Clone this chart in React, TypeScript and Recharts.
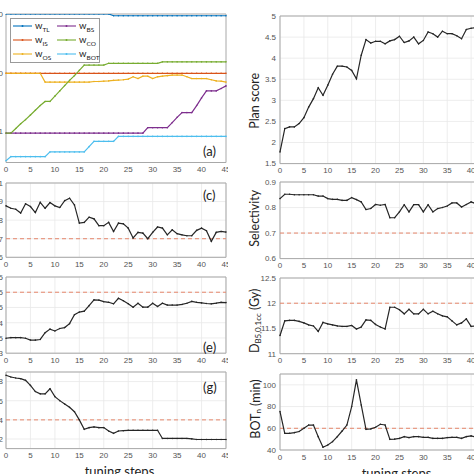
import React from "react";
import {
  LineChart,
  Line,
  XAxis,
  YAxis,
  CartesianGrid,
  ReferenceLine,
  ReferenceArea,
  Label,
} from "recharts";

// tuning steps (x axis)
const STEPS = [
  0, 1, 2, 3, 4, 5, 6, 7, 8, 9, 10, 11, 12, 13, 14, 15, 16, 17, 18, 19, 20, 21, 22,
  23, 24, 25, 26, 27, 28, 29, 30, 31, 32, 33, 34, 35, 36, 37, 38, 39, 40, 41, 42, 43,
  44, 45,
];
const X_TICKS = [0, 5, 10, 15, 20, 25, 30, 35, 40, 45];

// (a) objective weights, log10 scale
const W_TL = [
  2, 2, 2, 2, 2, 2, 2, 2, 2, 2, 2, 2, 2, 2, 2, 2, 2, 2, 2, 2, 2, 2, 1.97, 1.97, 1.97,
  1.97, 1.97, 1.97, 1.97, 1.97, 1.97, 1.97, 1.97, 1.97, 1.97, 1.97, 1.97, 1.97, 1.97,
  1.97, 1.97, 1.97, 1.97, 1.97, 1.97, 1.97,
];
const W_IS = [
  0.99, 0.99, 0.99, 0.99, 0.99, 0.99, 0.99, 0.99, 0.99, 0.99, 0.99, 0.99, 0.99, 0.99,
  0.99, 0.99, 0.99, 0.99, 0.99, 0.99, 0.99, 0.99, 0.99, 0.99, 0.99, 0.99, 0.99, 0.99,
  0.99, 0.99, 0.99, 0.99, 0.99, 0.99, 0.99, 0.99, 0.99, 0.99, 0.99, 0.99, 0.99, 0.99,
  0.99, 0.99, 0.99, 0.99,
];
const W_OS = [
  0.99, 0.99, 0.99, 0.99, 0.99, 0.99, 0.99, 0.99, 0.84, 0.84, 0.84, 0.84, 0.84, 0.84,
  0.84, 0.84, 0.84, 0.84, 0.85, 0.85, 0.855, 0.86, 0.87, 0.875, 0.88, 0.89, 0.93, 0.9,
  0.94, 0.94, 0.9, 0.93, 0.94, 0.95, 0.96, 0.96, 0.96, 0.93, 0.9, 0.9, 0.9, 0.9, 0.88,
  0.86, 0.855, 0.84,
];
const W_BS = [
  -0.03, -0.03, -0.03, -0.03, -0.03, -0.03, -0.03, -0.03, -0.03, -0.03, -0.03, -0.03,
  -0.03, -0.03, -0.03, -0.03, -0.03, -0.03, -0.03, -0.03, -0.03, -0.03, -0.03, -0.03,
  -0.03, -0.03, -0.03, -0.03, -0.03, 0.063, 0.063, 0.063, 0.063, 0.063, 0.15, 0.24,
  0.32, 0.32, 0.32, 0.44, 0.57, 0.69, 0.69, 0.69, 0.73, 0.775,
];
const W_CO = [
  -0.03, -0.03, 0.05, 0.13, 0.2, 0.28, 0.36, 0.44, 0.51, 0.51, 0.6, 0.69, 0.78, 0.87,
  0.95, 1.04, 1.13, 1.13, 1.13, 1.13, 1.13, 1.16, 1.16, 1.16, 1.16, 1.16, 1.16, 1.16,
  1.16, 1.16, 1.16, 1.16, 1.185, 1.185, 1.185, 1.185, 1.185, 1.185, 1.185, 1.185,
  1.185, 1.185, 1.185, 1.185, 1.185, 1.185,
];
const W_BOT = [
  -0.5, -0.43, -0.43, -0.43, -0.43, -0.43, -0.43, -0.43, -0.43, -0.35, -0.35, -0.35,
  -0.35, -0.35, -0.35, -0.35, -0.35, -0.26, -0.17, -0.17, -0.17, -0.17, -0.17, -0.085,
  -0.085, -0.085, -0.085, -0.085, -0.085, -0.085, -0.085, -0.085, -0.085, -0.085,
  -0.085, -0.085, -0.085, -0.085, -0.085, -0.085, -0.085, -0.085, -0.085, -0.085,
  -0.085, -0.085,
];

// (c), (e), (g)
const PANEL_C = [
  0.9877, 0.9864, 0.9859, 0.9838, 0.9888, 0.9873, 0.9841, 0.9896, 0.9864, 0.9895,
  0.9877, 0.9868, 0.9905, 0.9918, 0.9882, 0.9784, 0.9788, 0.9816, 0.9807, 0.977,
  0.977, 0.9788, 0.9739, 0.9784, 0.978, 0.9757, 0.9704, 0.9734, 0.973, 0.97, 0.9734,
  0.9763, 0.9757, 0.9721, 0.9748, 0.9727, 0.9721, 0.9716, 0.9716, 0.9745, 0.9757,
  0.9743, 0.9686, 0.9734, 0.9739, 0.9736,
];
const PANEL_E = [
  1.349, 1.351, 1.351, 1.351, 1.349, 1.343, 1.343, 1.345, 1.367, 1.379, 1.373, 1.381,
  1.384, 1.397, 1.426, 1.435, 1.438, 1.456, 1.475, 1.474, 1.469, 1.467, 1.462, 1.48,
  1.472, 1.462, 1.451, 1.464, 1.451, 1.451, 1.464, 1.453, 1.464, 1.458, 1.458, 1.458,
  1.46, 1.464, 1.47, 1.467, 1.465, 1.463, 1.462, 1.464, 1.467, 1.466,
];
const PANEL_G = [
  1.866, 1.848, 1.837, 1.83, 1.813, 1.76, 1.696, 1.672, 1.672, 1.725, 1.643, 1.601,
  1.566, 1.531, 1.485, 1.4, 1.301, 1.319, 1.326, 1.319, 1.319, 1.284, 1.259, 1.284,
  1.287, 1.291, 1.291, 1.291, 1.291, 1.291, 1.291, 1.291, 1.206, 1.206, 1.206, 1.206,
  1.206, 1.206, 1.202, 1.195, 1.195, 1.195, 1.195, 1.195, 1.195, 1.195,
];

// right column
const PLAN_SCORE = [
  1.776, 2.33, 2.37, 2.37, 2.45, 2.59, 2.84, 3.04, 3.3, 3.12, 3.36, 3.62, 3.81, 3.81,
  3.79, 3.71, 3.51, 4.07, 4.44, 4.36, 4.4, 4.4, 4.34, 4.41, 4.44, 4.52, 4.37, 4.41,
  4.5, 4.34, 4.42, 4.62, 4.58, 4.5, 4.64, 4.58, 4.58, 4.53, 4.46, 4.68, 4.71, 4.72,
  4.7, 4.73, 4.74, 4.75,
];
const SELECTIVITY = [
  0.835, 0.852, 0.852, 0.85, 0.85, 0.85, 0.85, 0.85, 0.845, 0.845, 0.835, 0.832,
  0.832, 0.828, 0.828, 0.839, 0.831, 0.822, 0.792, 0.796, 0.812, 0.809, 0.812, 0.76,
  0.76, 0.783, 0.811, 0.783, 0.811, 0.811, 0.783, 0.811, 0.783, 0.796, 0.8, 0.806,
  0.818, 0.818, 0.802, 0.812, 0.822, 0.815, 0.82, 0.825, 0.82, 0.825,
];
const D_BS = [
  11.36, 11.65, 11.66, 11.66, 11.64, 11.61, 11.57, 11.55, 11.44, 11.62, 11.59, 11.57,
  11.55, 11.54, 11.54, 11.56, 11.49, 11.53, 11.67, 11.66, 11.58, 11.53, 11.49, 11.92,
  11.92, 11.87, 11.79, 11.88, 11.79, 11.79, 11.88, 11.79, 11.84, 11.79, 11.75, 11.73,
  11.65, 11.57, 11.61, 11.69, 11.54, 11.55, 11.58, 11.57, 11.6, 11.6,
];
const BOT_N = [
  75.4, 55.4, 55.4, 56, 57, 60, 63, 63, 52.3, 42.5, 44.6, 47.7, 52.3, 57.5, 63, 80,
  104.6, 81.5, 59, 59.4, 61, 63.7, 63, 49.8, 50, 50.7, 52.3, 51.4, 52.3, 52.3, 51.7,
  51.7, 50.7, 50.7, 50.7, 51.4, 51.7, 51.7, 50.7, 52.3, 53, 52, 53, 52, 53, 53,
];

const WEIGHT_SERIES = [
  { key: "tl", sub: "TL", color: "#0072BD", values: W_TL },
  { key: "is", sub: "IS", color: "#D95319", values: W_IS },
  { key: "os", sub: "OS", color: "#EDB120", values: W_OS },
  { key: "bs", sub: "BS", color: "#7E2F8E", values: W_BS },
  { key: "co", sub: "CO", color: "#77AC30", values: W_CO },
  { key: "bot", sub: "BOT", color: "#4DBEEE", values: W_BOT },
];

const TICK_FONT = "'Liberation Sans', Arial, sans-serif";
const TITLE_FONT = "Lato, 'Open Sans', sans-serif";
const YW = 40;
const PAD_TOP = 6;
const LINE_BLACK = "#262626";
const THRESHOLD = "#e6866a";

function table(cols: Record<string, number[]>) {
  return STEPS.map((step, i) => {
    const row: Record<string, number> = { step };
    for (const k of Object.keys(cols)) row[k] = cols[k][i];
    return row;
  });
}

type Box = { x: number; y: number; w: number; h: number };
type Series = { key: string; color: string };

function yTitle(content: React.ReactNode, shift: number) {
  return (p: any) => {
    const vb = p.viewBox ?? { x: 0, y: PAD_TOP, width: YW, height: 0 };
    const cx = vb.x + vb.width - 25.5;
    const cy = vb.y + vb.height / 2 + shift;
    return (
      <text
        x={cx}
        y={cy}
        transform={`rotate(-90 ${cx} ${cy})`}
        textAnchor="middle"
        dominantBaseline="central"
        fontSize={12.5}
        fontFamily={TITLE_FONT}
        fill="#222"
      >
        {content}
      </text>
    );
  };
}

function xTitle(shift: number) {
  return (p: any) => {
    const vb = p.viewBox ?? { x: YW, y: 0, width: 0, height: 0 };
    return (
      <text
        x={vb.x + vb.width / 2 + shift}
        y={vb.y + 27.7}
        textAnchor="middle"
        fontSize={13}
        fontFamily={TITLE_FONT}
        fill="#222"
      >
        tuning steps
      </text>
    );
  };
}

function Panel(props: {
  box: Box;
  data: Record<string, number>[];
  series: Series[];
  yDomain: [number, number];
  yTicks: number[];
  labelGap: number;
  refY?: number;
  grid?: boolean;
  xh?: number;
  yFormat?: (v: number) => string;
  title?: React.ReactNode;
  titleShift?: number;
  xTitleShift?: number;
}) {
  const { box, xh = 14 } = props;
  const [lo, hi] = props.yDomain;
  const tick = { fontSize: 8, fill: "#555", fontFamily: TICK_FONT };
  return (
    <div style={{ position: "absolute", left: box.x - YW, top: box.y - PAD_TOP }}>
      <LineChart
        width={box.w + YW + 2}
        height={box.h + PAD_TOP + xh}
        data={props.data}
        margin={{ top: PAD_TOP, right: 2, bottom: 0, left: 0 }}
      >
        {props.grid !== false && <CartesianGrid stroke="#e8e8e8" strokeWidth={0.8} />}
        <XAxis
          dataKey="step"
          type="number"
          domain={[0, 45]}
          ticks={X_TICKS}
          interval={0}
          height={xh}
          axisLine={false}
          tickLine={false}
          tickSize={0}
          tickMargin={4}
          tick={tick}
        >
          {props.xTitleShift !== undefined && <Label content={xTitle(props.xTitleShift)} />}
        </XAxis>
        <YAxis
          type="number"
          domain={props.yDomain}
          ticks={props.yTicks}
          interval={0}
          width={YW}
          allowDataOverflow
          axisLine={false}
          tickLine={false}
          tickSize={0}
          tickMargin={props.labelGap}
          tick={tick}
          tickFormatter={props.yFormat}
        >
          {props.title && <Label content={yTitle(props.title, props.titleShift ?? 0)} />}
        </YAxis>
        <ReferenceArea x1={0} x2={45} y1={lo} y2={hi} fill="none" stroke="#a8a8a8" strokeWidth={1} />
        {props.refY !== undefined && (
          <ReferenceLine y={props.refY} stroke={THRESHOLD} strokeDasharray="4 3" strokeWidth={1} />
        )}
        {props.series.map((s) => (
          <Line
            key={s.key}
            type="linear"
            dataKey={s.key}
            stroke={s.color}
            strokeWidth={1.2}
            dot={{ r: 0.8, fill: s.color, stroke: s.color, strokeWidth: 0 }}
            activeDot={false}
            isAnimationActive={false}
          />
        ))}
      </LineChart>
    </div>
  );
}

function WeightLegend() {
  return (
    <div
      style={{
        position: "absolute",
        left: 10,
        top: 18,
        width: 90,
        height: 45,
        border: "1px solid #9a9a9a",
        background: "#fff",
        boxSizing: "border-box",
      }}
    >
      {WEIGHT_SERIES.map((s, i) => {
        const col = Math.floor(i / 3);
        const row = i % 3;
        return (
          <div
            key={s.key}
            style={{
              position: "absolute",
              left: 2 + col * 44,
              top: 1 + row * 14,
              height: 12,
              display: "flex",
              alignItems: "center",
              whiteSpace: "nowrap",
            }}
          >
            <svg width={19} height={12}>
              <line x1={0} y1={6} x2={19} y2={6} stroke={s.color} strokeWidth={1.1} />
              <circle cx={9.5} cy={6} r={1} fill={s.color} />
            </svg>
            <span style={{ marginLeft: 3, fontSize: 9.5, lineHeight: "12px", fontFamily: TITLE_FONT, color: "#222" }}>
              w<span style={{ fontSize: 6.5, position: "relative", top: 3 }}>{s.sub}</span>
            </span>
          </div>
        );
      })}
    </div>
  );
}

function Tag({ x, y, text }: { x: number; y: number; text: string }) {
  return (
    <div
      style={{
        position: "absolute",
        left: x,
        top: y,
        fontSize: 13,
        lineHeight: "13px",
        fontFamily: TITLE_FONT,
        color: "#222",
      }}
    >
      {text}
    </div>
  );
}

const LX = 6;
const LW = 220;
const RX = 279.5;
const RW = 215;

const weightData = table(Object.fromEntries(WEIGHT_SERIES.map((s) => [s.key, s.values])));
const cData = table({ v: PANEL_C });
const eData = table({ v: PANEL_E });
const gData = table({ v: PANEL_G });
const psData = table({ v: PLAN_SCORE });
const selData = table({ v: SELECTIVITY });
const dData = table({ v: D_BS });
const botData = table({ v: BOT_N });
const black = [{ key: "v", color: LINE_BLACK }];

export default function App() {
  return (
    <div
      style={{
        position: "fixed",
        left: 0,
        top: 0,
        width: 474,
        height: 474,
        overflow: "hidden",
        background: "#fff",
      }}
    >
      {/* left column */}
      <Panel
        box={{ x: LX, y: 13.5, w: LW, h: 148.5 }}
        data={weightData}
        series={WEIGHT_SERIES}
        yDomain={[-0.53, 2]}
        yTicks={[0, 1, 2]}
        yFormat={(v) => String(10 ** v)}
        labelGap={3}
        grid={false}
      />
      <WeightLegend />
      <Tag x={203} y={145} text="(a)" />
      <Panel
        box={{ x: LX, y: 183, w: LW, h: 74.3 }}
        data={cData}
        series={black}
        yDomain={[0.96, 1]}
        yTicks={[0.96, 0.97, 0.98, 0.99, 1]}
        refY={0.97}
        labelGap={3}
      />
      <Tag x={203} y={189} text="(c)" />
      <Panel
        box={{ x: LX, y: 276.5, w: LW, h: 76.2 }}
        data={eData}
        series={black}
        yDomain={[1.3, 1.55]}
        yTicks={[1.3, 1.35, 1.4, 1.45, 1.5, 1.55]}
        refY={1.5}
        labelGap={3}
      />
      <Tag x={203} y={341} text="(e)" />
      <Panel
        box={{ x: LX, y: 371.7, w: LW, h: 76.6 }}
        data={gData}
        series={black}
        yDomain={[1.1, 1.9]}
        yTicks={[1.2, 1.4, 1.6, 1.8]}
        refY={1.4}
        labelGap={3}
        xh={30}
        xTitleShift={3.5}
      />
      <Tag x={203} y={381} text="(g)" />

      {/* right column */}
      <Panel
        box={{ x: RX, y: 15.7, w: RW, h: 147.6 }}
        data={psData}
        series={black}
        yDomain={[1.5, 5]}
        yTicks={[1.5, 2, 2.5, 3, 3.5, 4, 4.5, 5]}
        labelGap={4}
        title="Plan score"
        titleShift={11}
      />
      <Panel
        box={{ x: RX, y: 181.7, w: RW, h: 76.6 }}
        data={selData}
        series={black}
        yDomain={[0.6, 0.9]}
        yTicks={[0.6, 0.7, 0.8, 0.9]}
        refY={0.7}
        labelGap={4}
        title="Selectivity"
        titleShift={-2}
      />
      <Panel
        box={{ x: RX, y: 278.3, w: RW, h: 75.7 }}
        data={dData}
        series={black}
        yDomain={[11, 12.5]}
        yTicks={[11, 11.5, 12, 12.5]}
        refY={12}
        labelGap={4}
        title={
          <>
            <tspan>D</tspan>
            <tspan dy={3.5} fontSize={8}>
              B5,0.1cc
            </tspan>
            <tspan dy={-3.5}> (Gy)</tspan>
          </>
        }
        titleShift={5}
      />
      <Panel
        box={{ x: RX, y: 374, w: RW, h: 76 }}
        data={botData}
        series={black}
        yDomain={[40, 110]}
        yTicks={[40, 60, 80, 100]}
        refY={60}
        labelGap={4}
        xh={30}
        xTitleShift={9}
        title={
          <>
            <tspan>BOT</tspan>
            <tspan dy={3.5} fontSize={8}>
              n
            </tspan>
            <tspan dy={-3.5}> (min)</tspan>
          </>
        }
        titleShift={-3}
      />
    </div>
  );
}
